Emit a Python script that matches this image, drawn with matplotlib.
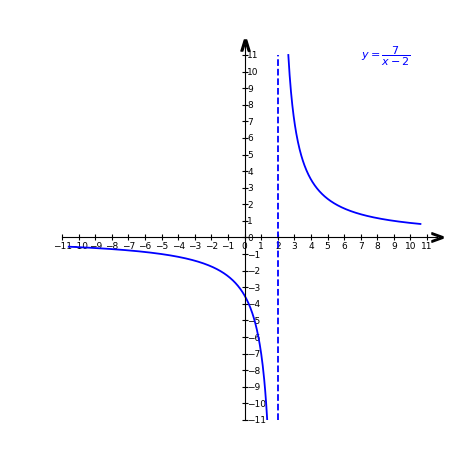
import numpy as np
import matplotlib.pyplot as plt

k = 7.0
h = 2.0
x_left = [-10.6, h - k / 11]
x_right = [h + k / 11, 10.6]
ticks = list(range(-11, 12))

fig = plt.figure(figsize=(4.74, 4.74), dpi=100)
ax = fig.add_axes([0.131, 0.114, 0.791, 0.791])
ax.set_xlim(-11, 11.6)
ax.set_ylim(-11, 11.6)

for a, b in (x_left, x_right):
    xs = np.linspace(a, b, 400)
    ax.plot(xs, k / (xs - h), color='blue', lw=1.3)
ax.plot([h, h], [-11, 11], color='blue', ls='--', lw=1.3)

for s in ('top', 'right'):
    ax.spines[s].set_visible(False)
ax.spines['left'].set_position(('data', 0))
ax.spines['bottom'].set_position(('data', 0))
ax.plot(11.6, 0, marker=r'$>$', color='k', ms=8, clip_on=False)
ax.plot(0, 11.6, marker=r'$\wedge$', color='k', ms=8, clip_on=False)

ax.set_xticks(ticks)
ax.set_yticks(ticks)
ax.set_xticklabels([str(t).replace('-', '\u2212') for t in ticks], fontsize=6.5)
ax.set_yticklabels([str(t).replace('-', '\u2212') for t in ticks], fontsize=6.5)
ax.tick_params(axis='x', direction='inout', length=4, pad=1)
ax.tick_params(axis='y', direction='inout', length=4, pad=-4)
for lab in ax.get_yticklabels():
    lab.set_horizontalalignment('left')

ax.text(0.93, 0.97, r'$y=\dfrac{7}{x-2}$', color='blue', fontsize=8,
        transform=ax.transAxes, ha='right', va='center')

fig.savefig('out.png', dpi=100)
